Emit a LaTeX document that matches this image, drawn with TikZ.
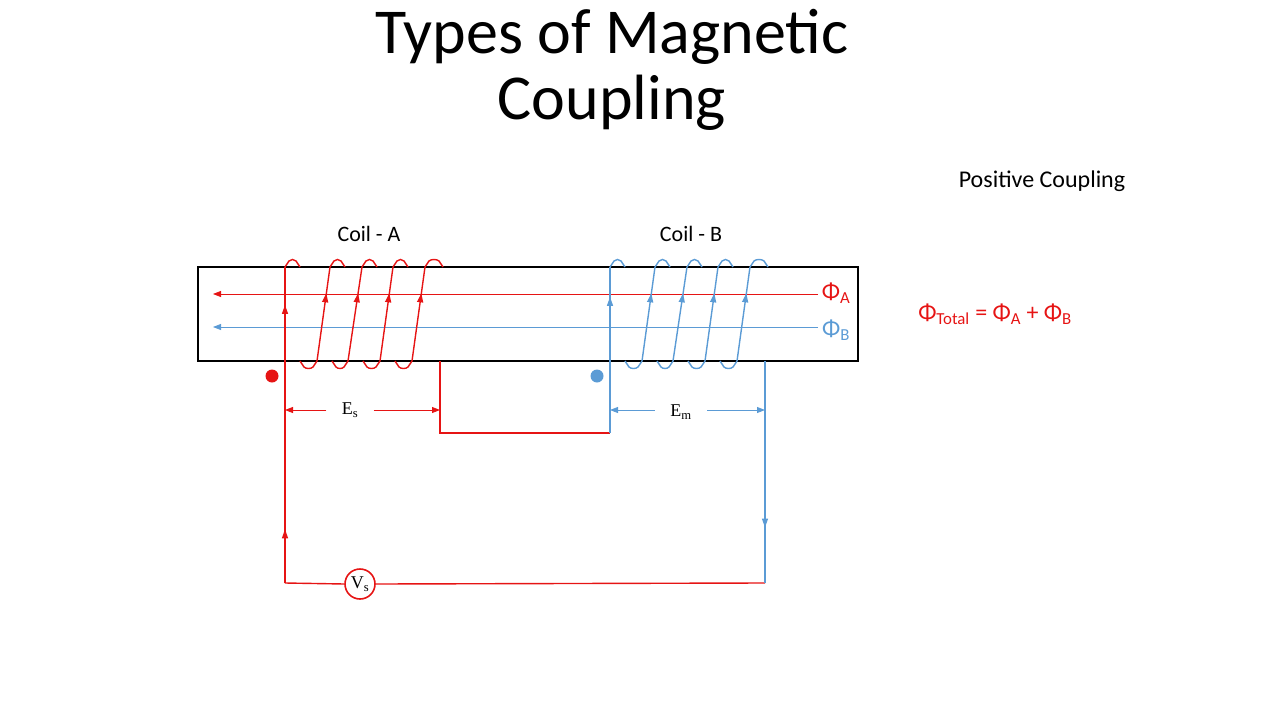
\documentclass[tikz,border=0pt]{standalone}
\usepackage{fontspec}
\setmainfont{Carlito}
\newfontfamily\serifont{Liberation Serif}
\usetikzlibrary{arrows.meta,decorations.markings}
\definecolor{cred}{RGB}{230,20,20}
\definecolor{cblue}{RGB}{91,155,213}
\tikzset{
 wire/.style={line width=1.4pt},
 mid/.style={postaction={decorate},decoration={markings,mark=at position #1 with {\arrow{Triangle[length=9pt,width=6pt]}}}},
 flux/.style={line width=0.8pt,-{Triangle[length=8pt,width=6pt]}},
 dim/.style={line width=0.9pt,-{Triangle[length=8pt,width=6pt]}},
}
\newcommand{\mycoil}[2]{%
 \begin{scope}[xshift=#1pt,draw=#2]
  \foreach \a/\b in {285/300,330/345,362/377,393/408,425/443}
   \draw[wire] (\a,267) -- (\a+4,261) .. controls (\a+6,259) and (\b-6,259) .. (\b-4,261) -- (\b,267);
  \foreach \a/\b in {300/317,332/348,363/380,395/412}
   \draw[wire] (\a,361) -- (\a+4,367) .. controls (\a+6,369) and (\b-6,369) .. (\b-4,367) -- (\b,361);
  \foreach \a/\b in {317/330,348/362,380/393,412/425}
   \draw[wire,mid=0.72] (\a,361) -- (\b,267);
 \end{scope}}
\begin{document}
\begin{tikzpicture}[x=1pt,y=-1pt]
\useasboundingbox (0,0) rectangle (1280,720);
\node[font=\fontsize{64}{66}\selectfont,align=center] (title) at (612,70) {Types of Magnetic\\Coupling};
\node[font=\fontsize{24}{26}\selectfont] (pos) at (1042,181) {Positive Coupling};
\node[font=\fontsize{22}{24}\selectfont] (ca) at (369,234) {Coil - A};
\node[font=\fontsize{22}{24}\selectfont] (cb) at (691,234) {Coil - B};
\draw[line width=1.2pt] (198,267) rectangle (858,361);
\coordinate (fa) at (818,294); \coordinate (fae) at (213,294);
\coordinate (fb) at (818,327); \coordinate (fbe) at (213,327);
\draw[flux,cred] (fa) -- (fae);
\draw[flux,cblue] (fb) -- (fbe);
\node[cred,font=\fontsize{24}{26}\selectfont] (pa) at (836,293) {Φ\textsubscript{A}};
\node[cblue,font=\fontsize{24}{26}\selectfont] (pb) at (836,330) {Φ\textsubscript{B}};
\node[cred,font=\fontsize{24}{26}\selectfont] (tot) at (995,314) {Φ\textsubscript{Total} = Φ\textsubscript{A} + Φ\textsubscript{B}};
\mycoil{0}{cred}
\mycoil{325}{cblue}
% circuit
\node[draw=cred,circle,line width=1.6pt,minimum size=30pt,inner sep=0pt,font=\serifont\fontsize{18}{18}\selectfont] (vs) at (360,584) {V\textsubscript{s}};
\draw[wire,cred,mid=0.88] (285,583) -- (285,267);
\draw[wire,cred,mid=0.17] (285,583) -- (285,267);
\draw[wire,cred] (285,583) -- (vs.west);
\draw[wire,cred] (vs.east) -- (765,583);
\draw[wire,cred] (440,361) -- (440,433) -- (610,433);
\draw[wire,cblue,mid=0.82] (610,433) -- (610,267);
\draw[wire,cblue,mid=0.75] (765,361) -- (765,583);
\fill[cred] (272,376) circle (6.5);
\fill[cblue] (597,376) circle (6.5);
\node[font=\serifont\fontsize{18}{18}\selectfont] (es) at (350,410) {E\textsubscript{s}};
\draw[dim,cred] (es.west) ++(-12,0) -- (285,410);
\draw[dim,cred] (es.east) ++(12,0) -- (440,410);
\node[font=\serifont\fontsize{18}{18}\selectfont] (em) at (681,412) {E\textsubscript{m}};
\draw[dim,cblue] (em.west) ++(-12,-2) -- (610,410);
\draw[dim,cblue] (em.east) ++(12,-2) -- (765,410);
\end{tikzpicture}
\end{document}
